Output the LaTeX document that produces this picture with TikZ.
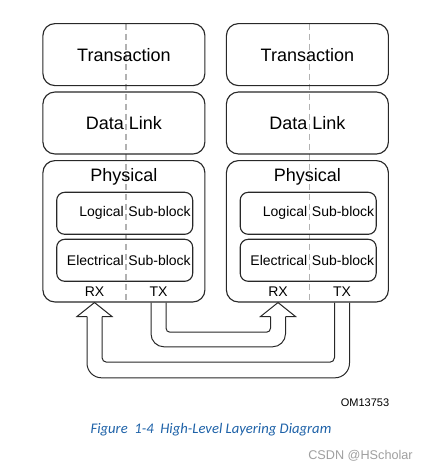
\documentclass[tikz,border=0pt]{standalone}
\usepackage{fontspec}
\setmainfont{Liberation Sans}
\newfontfamily\capfont{Carlito}
\usetikzlibrary{calc}

\definecolor{capblue}{RGB}{30,98,168}
\definecolor{linegray}{RGB}{40,40,40}

\tikzset{
  layer/.style={draw=linegray, line width=0.85pt, rounded corners=9pt,
    minimum width=121.5pt, minimum height=46.5pt, inner sep=0pt,
    font=\fontsize{13.5}{16}\selectfont},
  phys/.style={layer, minimum height=106pt},
  subblock/.style={draw=linegray, line width=0.85pt, rounded corners=6pt,
    minimum height=31.5pt, text width=99pt, inner sep=1.5pt, align=right,
    font=\fontsize{10.5}{12}\selectfont},
  port/.style={inner sep=0pt, font=\fontsize{10.5}{12}\selectfont},
  midline/.style={gray!60, line width=1.1pt, dash pattern=on 5pt off 2.5pt},
  link/.style={linegray, line width=0.75pt},
}

\begin{document}
\begin{tikzpicture}[x=0.75pt, y=-0.75pt]
  \useasboundingbox (0,0) rectangle (430,471);

  % Two layer stacks
  \foreach \i/\cx in {1/123.9, 2/307.4} {
    % Dashed centre line
    \draw[midline] (\cx+2, 23.5) -- (\cx+2, 302);

    % Layers
    \node[layer] (trans\i) at (\cx, 54.6) {Transaction};
    \node[layer] (dlink\i) at (\cx, 123) {Data Link};
    \node[phys] (phys\i) at (\cx, 231.3) {};
    \node[port, font=\fontsize{13.5}{16}\selectfont] (physlbl\i) at (\cx, 176.7) {Physical};

    % Sub-blocks
    \node[subblock] (logic\i) at (\cx+0.8, 213.3) {Logical Sub-block};
    \node[subblock] (elec\i) at (\cx+0.8, 260.3) {Electrical Sub-block};

    % Ports
    \node[port] (rx\i) at (\cx-29.4, 292) {RX};
    \node[port] (tx\i) at (\cx+34.6, 292) {TX};
  }

  % Link ends
  \coordinate (s1) at (tx1 |- phys1.south);
  \coordinate (e2) at (rx2 |- phys2.south);
  \coordinate (s2) at (tx2 |- phys2.south);
  \coordinate (e1) at (rx1 |- phys1.south);

  % TX (left) to RX (right)
  \draw[link, rounded corners=9.75pt] ($(s1)+(-7.5,0)$) -- ($(s1)+(-7.5,44.3)$)
    -- ($(e2)+(7.5,44.3)$) -- ($(e2)+(7.5,14)$);
  \draw[link, rounded corners=3pt] ($(s1)+(7.5,0)$) -- ($(s1)+(7.5,29.7)$)
    -- ($(e2)+(-7.5,29.7)$) -- ($(e2)+(-7.5,14)$);
  \draw[link] ($(e2)+(-7.5,14)$) -- ($(e2)+(-17.5,14)$) -- (e2)
    -- ($(e2)+(17.5,14)$) -- ($(e2)+(7.5,14)$);

  % TX (right) to RX (left)
  \draw[link, rounded corners=11pt] ($(s2)+(7.5,0)$) -- ($(s2)+(7.5,75.3)$)
    -- ($(e1)+(-7.5,75.3)$) -- ($(e1)+(-7.5,14)$);
  \draw[link, rounded corners=3.5pt] ($(s2)+(-7.5,0)$) -- ($(s2)+(-7.5,59.7)$)
    -- ($(e1)+(7.5,59.7)$) -- ($(e1)+(7.5,14)$);
  \draw[link] ($(e1)+(7.5,14)$) -- ($(e1)+(17.5,14)$) -- (e1)
    -- ($(e1)+(-17.5,14)$) -- ($(e1)+(-7.5,14)$);

  % Labels
  \node[inner sep=0pt, font=\fontsize{8.25}{10}\selectfont] (omref) at (365, 403) {OM13753};
  \node[inner sep=0pt, text=capblue, font=\capfont\itshape\fontsize{11}{14}\selectfont] (caption) at (211, 430)
    {Figure\hspace{0.45em}1-4\hspace{0.45em}High-Level Layering Diagram};
  \node[inner sep=0pt, text=gray!75, font=\fontsize{9.5}{12}\selectfont] (wmark) at (360.5, 455.7) {CSDN @HScholar};

\end{tikzpicture}
\end{document}
